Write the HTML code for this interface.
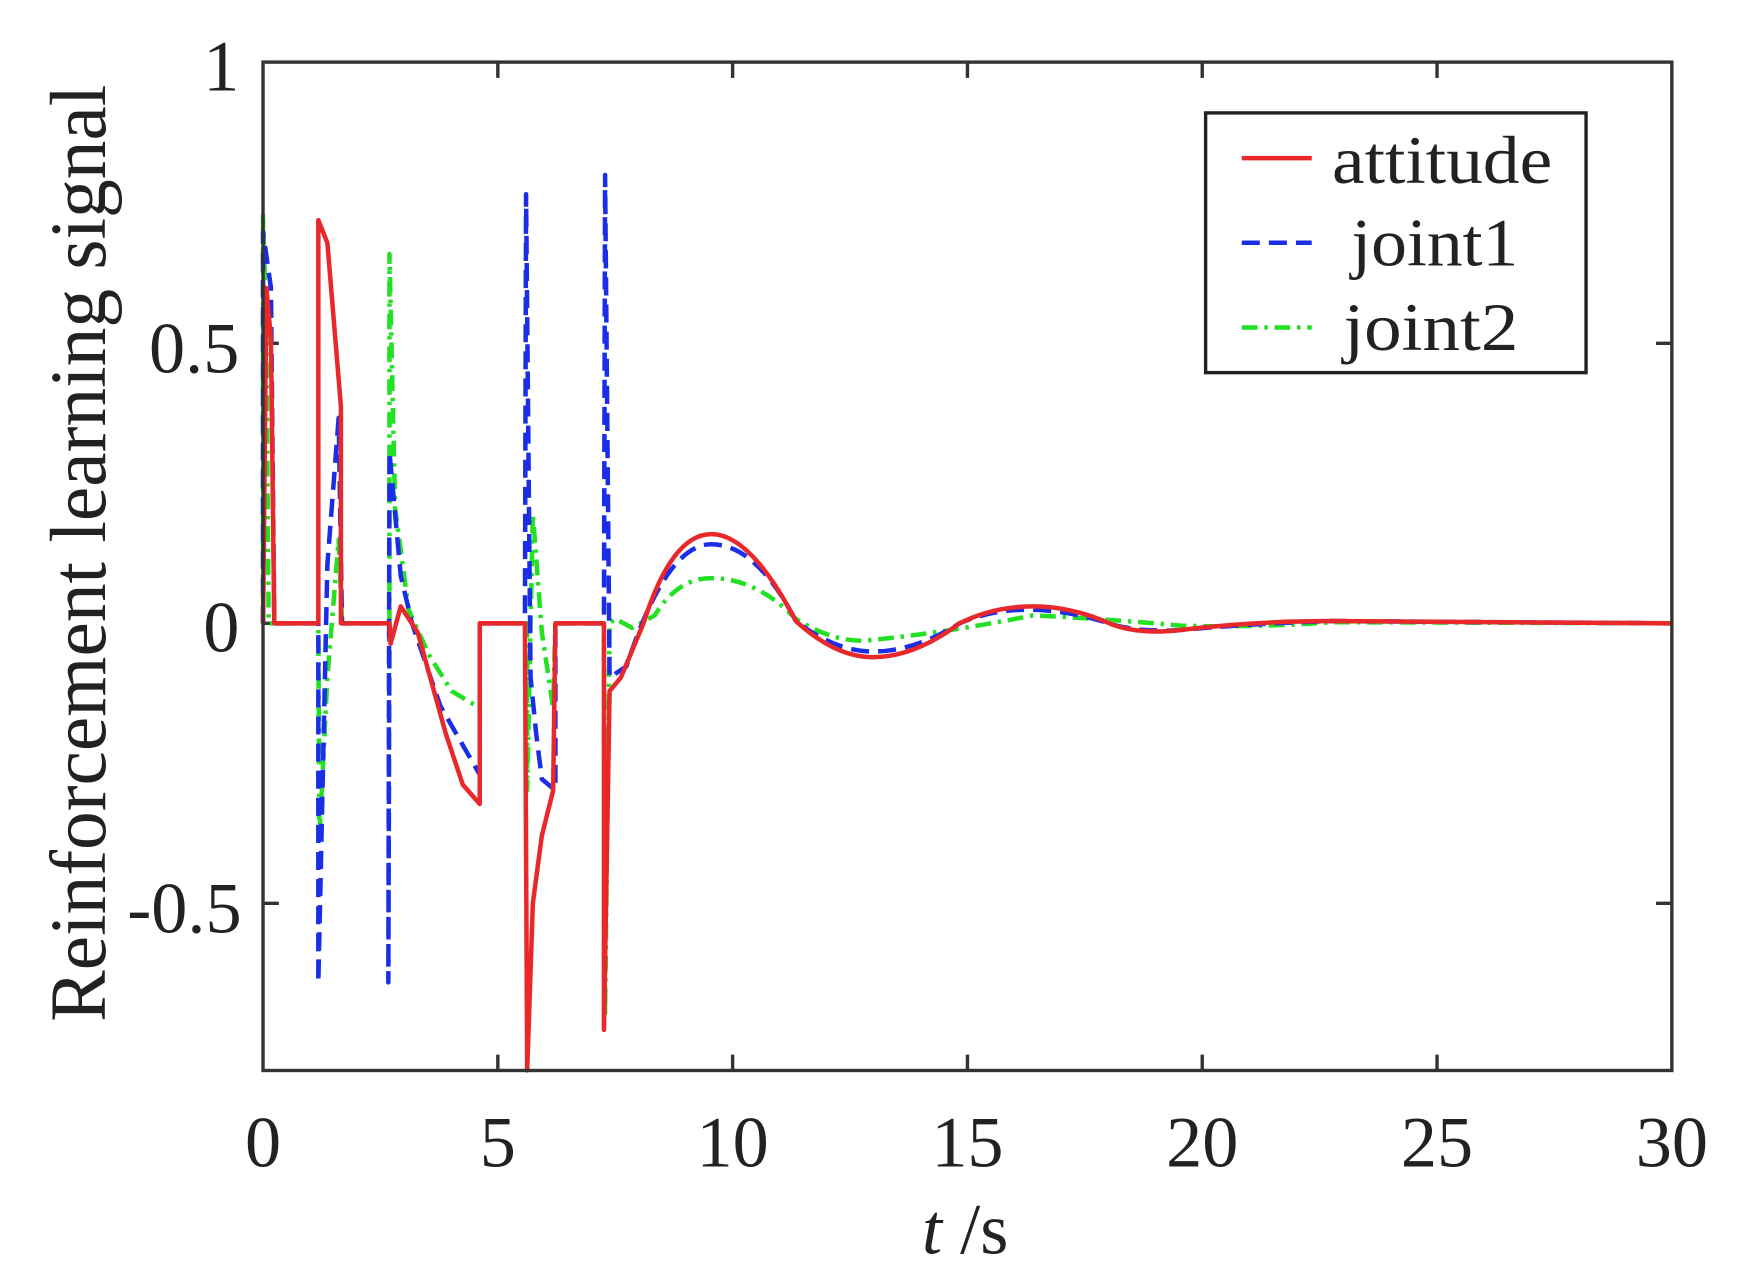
<!DOCTYPE html>
<html><head><meta charset="utf-8"><style>
html,body{margin:0;padding:0;background:#fff;}
svg{display:block;}
text{font-family:"Liberation Serif",serif;fill:#222;}
</style></head><body>
<svg width="1752" height="1276" viewBox="0 0 1552 1130" preserveAspectRatio="none" xmlns="http://www.w3.org/2000/svg">
<rect width="1552" height="1130" fill="#fff"/>
<g stroke="#333" stroke-width="3" fill="none">
<path d="M441 948v-14M649 948v-14M857 948v-14M1065 948v-14M1273 948v-14M441 55v14M649 55v14M857 55v14M1065 55v14M1273 55v14"/>
<path d="M233 304h14M233 552h14M233 800h14M1481 304h-14M1481 552h-14M1481 800h-14"/>
</g>
<g fill="none" stroke-width="4" stroke-linejoin="round">
<path stroke="#22e022" stroke-dasharray="14,6,3,6" d="M233 552 L233 190 L236 300 L238 552 L282 552 L283 740 L290 600 L300 478 L303 552 L345 552 L345 225 L350 450 L362 540 L380 580 L400 612 L425 627 L425 552 L467 552 L467 700 L472 455 L480 560 L490 627 L492 552 L535 552 L536 900 L540 552 L545 548 L560 556 L580 545 Q600 512 630 512 Q670 512 705 548 Q740 570 770 567 Q840 560 915 545 Q980 548 1045 554 Q1110 556 1180 551 L1481 552"/>
<path stroke="#1a2ee8" stroke-dasharray="16,8" d="M233 552 L233 205 L240 255 L243 552 L282 552 L282 870 L290 500 L300 370 L303 552 L345 552 L344 870 L345 400 L355 510 L365 552 L390 625 L410 660 L425 686 L425 552 L465 552 L466 172 L470 600 L475 650 L480 690 L492 700 L492 552 L535 552 L536 155 L540 600 L555 590 Q590 482 630 482 Q670 482 705 550 Q740 577 773 577 Q810 577 850 552 Q880 539 915 540 Q950 541 985 553 Q1010 560 1045 558 Q1110 552 1180 550 L1481 552"/>
<path stroke="#e8282a" d="M233 552 L236 255 L240 300 L243 552 L282 552 L282 195 L290 215 L302 360 L302 552 L345 552 L346 570 L355 537 L370 560 L395 650 L410 695 L425 712 L425 552 L465 552 L467 948 L472 800 L480 740 L490 700 L492 552 L535 552 L535 912 L540 612 L550 600 L570 552 Q595 473 630 473 Q665 473 705 550 Q740 582 773 582 Q810 582 850 552 Q880 537 915 537 Q950 537 985 553 Q1010 562 1045 558 Q1110 550 1180 550 L1481 552"/>
</g>
<rect x="233" y="55" width="1248" height="893" fill="none" stroke="#333" stroke-width="3"/>
<rect x="1068" y="100" width="337" height="230" fill="#fff" stroke="#222" stroke-width="3"/>
<g stroke-width="4">
<line x1="1100" y1="140" x2="1162" y2="140" stroke="#e8282a"/>
<line x1="1100" y1="215" x2="1162" y2="215" stroke="#1a2ee8" stroke-dasharray="16,8"/>
<line x1="1100" y1="290" x2="1162" y2="290" stroke="#22e022" stroke-dasharray="14,6,3,6"/>
</g>
<text x="1180" y="162" font-size="60" textLength="195" lengthAdjust="spacingAndGlyphs">attitude</text>
<text x="1197" y="235" font-size="60" textLength="148" lengthAdjust="spacingAndGlyphs">joint1</text>
<text x="1190" y="310" font-size="60" textLength="155" lengthAdjust="spacingAndGlyphs">joint2</text>
<g font-size="64" text-anchor="end">
<text x="212" y="80">1</text>
<text x="212" y="330">0.5</text>
<text x="212" y="577">0</text>
<text x="214" y="826">-0.5</text>
</g>
<g font-size="64" text-anchor="middle">
<text x="233" y="1033">0</text>
<text x="441" y="1033">5</text>
<text x="649" y="1033">10</text>
<text x="857" y="1033">15</text>
<text x="1065" y="1033">20</text>
<text x="1273" y="1033">25</text>
<text x="1481" y="1033">30</text>
</g>
<text x="855" y="1110" font-size="64" text-anchor="middle"><tspan font-style="italic">t</tspan> /s</text>
<text transform="translate(93,490) rotate(-90)" font-size="70" text-anchor="middle" textLength="830" lengthAdjust="spacingAndGlyphs">Reinforcement learning signal</text>
</svg>
</body></html>
